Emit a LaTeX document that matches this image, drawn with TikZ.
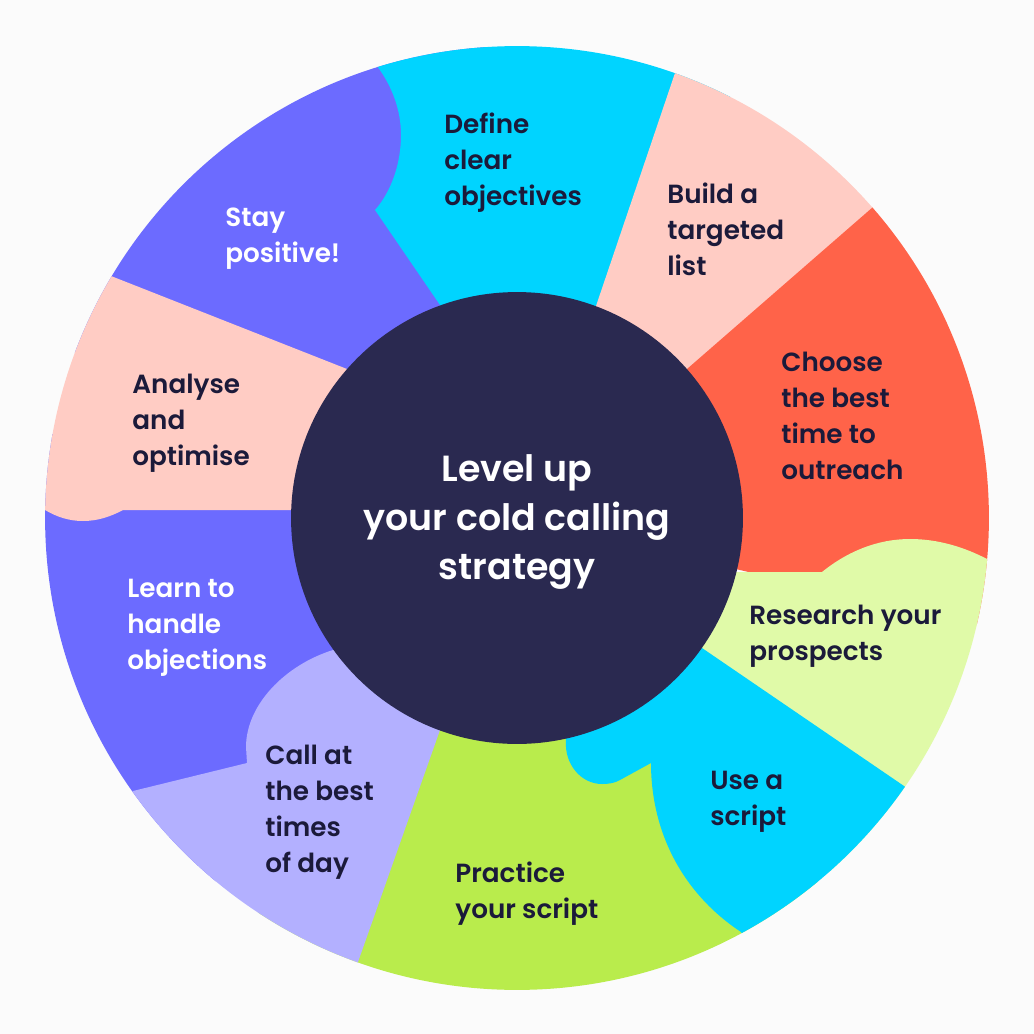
\documentclass[tikz,border=0pt]{standalone}
\usepackage{fontspec}
\setmainfont{Poppins SemiBold}
\definecolor{pagebg}{HTML}{FBFBFB}
\definecolor{hubnavy}{HTML}{2A2950}
\definecolor{inkdark}{HTML}{1B1A3A}
\definecolor{violet}{HTML}{6C6BFF}
\definecolor{skycyan}{HTML}{00D4FF}
\definecolor{blush}{HTML}{FFCCC4}
\definecolor{coral}{HTML}{FF6349}
\definecolor{palelime}{HTML}{E0FAA8}
\definecolor{lime}{HTML}{B9EC4C}
\definecolor{lilac}{HTML}{B3B0FF}
\tikzset{
  steplabel/.style={anchor=west, inner sep=0pt, align=left, text=inkdark, font=\fontsize{14.95}{20.4}\selectfont},
  steplight/.style={steplabel, text=white},
  hubdisk/.style={circle, fill=hubnavy, inner sep=0pt, minimum size=9.04cm},
  hublabel/.style={inner sep=0pt, align=center, text=white, font=\fontsize{20.7}{28}\selectfont}
}
\begin{document}
\begin{tikzpicture}[x=0.02cm, y=-0.02cm]
\useasboundingbox (0,0) rectangle (1034,1034);
\fill[pagebg] (0,0) rectangle (1034,1034);
\coordinate (c) at (517,518);
\begin{scope}
\clip (c) circle [radius=9.44cm];
% wedges, painted clockwise; the later one owns the shared edge
\fill[violet] (c) -- (40,340) -- (50,240) -- (356,-2) -- (480,-20) -- cycle;
\fill[skycyan] (c) -- (440,305) -- (375,210) .. controls (391,192) and (401,164) .. (401,135) .. controls (401,110) and (392,86) .. (377,66) -- (356,-2) -- (699,6) -- (760,40) -- cycle;
\fill[blush] (c) -- (596,306) -- (675,73) -- (699,6) -- (926,160) -- (1000,300) -- cycle;
\fill[coral] (c) -- (687,369) -- (873,207) -- (926,160) -- (1058,565) -- (1040,640) -- cycle;
\fill[palelime] (c) -- (736,572) -- (822,572) .. controls (848,551) and (878,539) .. (910,539) .. controls (938,539) and (964,547) .. (987,559) -- (1058,565) -- (962,826) -- (850,900) -- (700,700) -- cycle;
\fill[lime] (c) -- (250,900) -- (334,1029) -- (775,994) -- (850,930) -- (700,700) -- cycle;
\fill[violet] (c) -- (30,430) -- (-30,440) -- (75,832) -- (200,900) -- cycle;
\fill[skycyan] (c) -- (566,740) .. controls (564,764) and (581,784) .. (602,784) .. controls (609,784) and (615,783) .. (620,780) -- (651,763) .. controls (651,835) and (685,895) .. (741,932) -- (775,994) -- (962,826) -- (904,786) -- (702,648) -- cycle;
\fill[lilac] (c) -- (333,650) .. controls (285,665) and (246,705) .. (246,747) -- (247,763) -- (133,791) -- (75,832) -- (334,1029) -- (358,962) -- (440,730) -- cycle;
\fill[blush] (c) -- (291,510) -- (123,510) .. controls (110,517) and (97,521) .. (83,521) .. controls (69,521) and (57,517) .. (45,510) -- (-26,509) -- (50,240) -- (111,276) -- (347,369) -- cycle;
\end{scope}
\node[hubdisk] at (c) (hub) {};
\node[hublabel] at (517,522) (hubtext) {Level up\\your cold calling\\strategy};
\node[steplabel] at (444,163) (define) {Define\\clear\\objectives};
\node[steplabel] at (667,229) (build) {Build a\\targeted\\list};
\node[steplabel] at (781,416) (choose) {Choose\\the best\\time to\\outreach};
\node[steplabel] at (749,636) (research) {Research your\\prospects};
\node[steplabel] at (710,802) (usescript) {Use a\\script};
\node[steplabel] at (455,894) (practice) {Practice\\your script};
\node[steplabel] at (265,812) (callat) {Call at\\the best\\times\\of day};
\node[steplight] at (127,628) (objections) {Learn to\\handle\\objections};
\node[steplabel] at (132,423) (analyse) {Analyse\\and\\optimise};
\node[steplight] at (225,239) (positive) {Stay\\positive!};
\end{tikzpicture}
\end{document}
